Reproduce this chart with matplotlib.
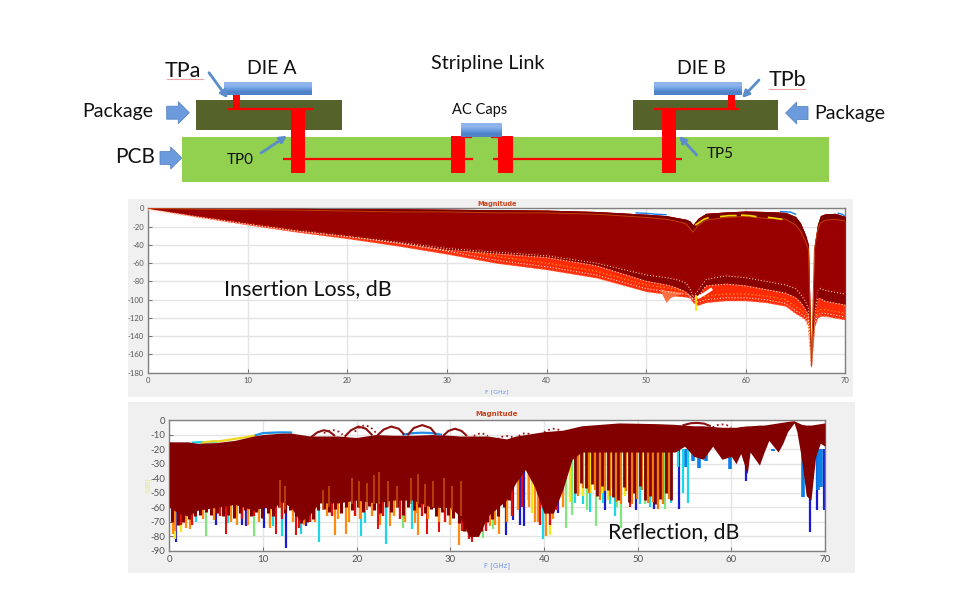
import matplotlib
matplotlib.use("Agg")
import matplotlib.pyplot as plt
from matplotlib.colors import LinearSegmentedColormap
from matplotlib.patches import Rectangle, Polygon, FancyArrowPatch

plt.rcParams["axes.unicode_minus"] = False
plt.rcParams["font.family"] = ["Lato", "DejaVu Sans"]
W, H = 961, 589

# ---------- Insertion loss envelopes ----------
il_f = [0, 5, 10, 15, 20, 25, 30, 35, 40, 45, 50, 52, 53, 54, 54.4, 54.7, 55.2, 56, 58, 60, 62, 64, 65, 65.5, 66, 66.3, 66.6, 66.9, 67.2, 67.5, 68, 69, 70]
il_top = [0, 0, 0, 0, -0.5, -0.5, -1, -1.5, -2, -3.5, -6.5, -8, -10, -12, -14, -18, -11, -5.5, -4, -3, -3.5, -4.5, -9, -16, -29, -40, -173, -40, -18, -8, -6, -5.5, -9]
il_line = [0, -1, -1.5, -2, -3, -4, -4, -5, -5, -6.5, -10, -12, -14, -17, -22, -26, -19, -13, -10, -9, -11, -12, -18, -25, -36, -45, -173, -45, -25, -16, -13, -12, -14]
il_main = [0, -8, -15.5, -23, -29, -35, -42, -46, -50, -58, -71, -74, -76, -80, -86, -95, -88, -76, -72, -74, -78, -82, -86, -92, -100, -108, -173, -108, -88, -86, -88, -90, -92]
il_band = [0, -8.5, -16.5, -24, -30, -37, -45, -49, -53, -62, -79, -83, -86, -91, -95, -98, -96, -84, -82, -84, -88, -92, -97, -102, -110, -116, -173, -116, -98, -98, -101, -103, -105]
il_bot = [0, -9.5, -18, -26, -33, -41, -50, -60, -67, -76, -91, -94, -96, -97, -98, -103, -106, -103, -101, -101, -103, -107, -115, -118, -122, -130, -173, -130, -120, -118, -118, -120, -122]
il_blue_a_f = [49, 50, 51, 52]
il_blue_a = [-5, -5.5, -6.5, -7]
il_blue_b_f = [63.5, 64.5, 65]
il_blue_b = [-3.5, -4.2, -6.5]
il_blue_c_f = [69.3, 69.7, 70]
il_blue_c = [-5.5, -6.5, -9]
il_yellow_f = [55, 55.4, 55.8, 56.2]
il_yellow = [-18, -15, -12, -10.5]
il_yellow2_f = [57.5, 58.3, 59]
il_yellow2 = [-9, -8, -8]
il_yellow3_f = [59.6, 60.4, 61]
il_yellow3 = [-7.5, -8, -9]
il_yellow4_f = [62.3, 63, 63.6]
il_yellow4 = [-10, -11, -12]
il_dip_f = [51.4, 52, 52.4, 53, 53.6]
il_dip = [-90, -103, -98, -95, -93]
il_dip_up = [-88, -90, -90, -91, -92]
il_spur_f = [55, 55]
il_spur = [-96, -111]
il_notch_f = [55.3, 55.8, 56.5]
il_notch = [-97, -94, -89]
il_x_ticks = [0, 10, 20, 30, 40, 50, 60, 70]
il_y_ticks = [0, -20, -40, -60, -80, -100, -120, -140, -160, -180]

# ---------- Reflection envelopes ----------
rl_f = [0, 1, 2, 3, 5, 7, 9, 10, 11, 12, 13, 14, 15, 16, 18, 20, 22, 24, 26, 28, 30, 31, 32, 33, 34, 36, 37, 38, 39, 40, 41, 42, 43, 44, 48, 52, 54, 55, 56, 57, 58, 59, 60, 60.5, 61, 61.7, 62, 63, 63.5, 64, 65, 65.5, 66, 66.7, 67, 67.5, 68, 68.5, 69, 69.5, 70]
rl_top = [-15, -15, -15, -16, -15.5, -14, -11, -10, -9.5, -9, -9, -10, -11, -11, -11, -12, -10, -10.5, -10.5, -10, -10.5, -11, -11, -11, -11, -13, -11, -10, -9, -8, -7.5, -7, -5.5, -4, -2, -2.5, -3, -3.5, -4, -4, -4.5, -5, -5, -5, -4.5, -4, -4, -3.5, -3.5, -3, -2, -1.5, -1, -0.5, -1.5, -3, -3.5, -3.5, -3, -2.5, -2]
rl_low = [-60, -64, -66, -62, -60, -58, -62, -60, -61, -56, -60, -70, -65, -57, -57, -55, -57, -55, -55, -60, -60, -66, -80, -80, -66, -55, -43, -34, -46, -64, -64, -48, -27, -22, -22, -22, -22, -18, -25, -27, -18, -27, -25, -30, -23, -37, -22, -31, -22, -14, -22, -16, -8, -2, -8, -27, -52, -55, -25, -16, -18]

trace_azure_f = [9.2, 10, 11, 12, 13]
trace_azure = [-10.5, -9, -8.7, -8.5, -8.6]
trace_azure2_f = [25, 26, 27, 28, 29]
trace_azure2 = [-10, -9, -8.7, -9, -10]
trace_cyan_f = [2.5, 3.2, 4, 5]
trace_cyan = [-15.5, -15.2, -15.5, -14.8]
trace_yellow_f = [3.6, 4.6, 5.2, 7, 8, 9]
trace_yellow = [-15.5, -14.6, -14.7, -13, -12, -10.8]

blue_f = [0.7, 5.0, 7.8, 8.2, 10.1, 12.5, 14.6, 35.9, 36.7, 37.4, 37.9, 41.5, 46.5, 49.8, 51.7, 54.4, 61.6, 68.4, 69.1, 69.9]
blue_d = [-84, -72, -72, -73, -74, -88, -73, -79, -69, -72, -73, -64, -62, -62, -61, -61, -42, -77, -62, -62]
azure_f = [55.2, 55.9, 56.6, 57.3, 59.9, 64.5, 67.7, 69.3, 69.6]
azure_d = [-32, -28, -33, -28, -34, -21, -53, -48, -46]
cyan_f = [2.9, 6.3, 11.1, 12, 14.1, 16, 20.5, 20.9, 23.1, 25.9, 39.9, 43.3, 44.2, 44.9, 46.3, 47, 47.6, 49.2, 50.3, 51.3, 52.2, 53.6, 54.3, 54.8, 55.4]
cyan_d = [-70, -71, -73, -80, -78, -83.5, -80, -71, -85, -75, -82, -57, -58, -63, -57, -58, -66, -58, -58, -60, -59, -57, -32, -50, -57]
green_f = [3.9, 9, 25, 33.5, 34.6, 42.3, 43, 44.6, 45.5, 47.8, 48.2, 50.8, 52.9]
green_d = [-80, -80, -74, -81, -75, -74, -65, -62, -73, -60, -74, -58, -61]
yellow_f = [0.6, 1.3, 12, 38.3, 38.7, 40.6, 42.8, 43.7, 44.2, 45, 45.6, 46.2, 46.8, 47.2, 48.6, 49.6, 50.4, 51, 52, 53.2]
yellow_d = [-82, -77, -66, -55, -64, -79, -56, -50, -52, -50, -46, -50, -55, -47, -52, -50, -44, -52, -50, -48]
orange_f = [0.4, 2.2, 7.2, 10.8, 17.7, 18.9, 22.5, 23.6, 26.2, 26.5, 30.9, 31.8, 34.2, 35.2, 39.4, 40.2]
orange_d = [-78, -75, -72, -74, -79, -78, -72, -73, -71, -79, -86, -77, -73, -78, -70, -80]
red_f = [6.1, 11.4, 13.5, 22.3, 27.5, 28.8, 32.3, 32.8, 49.2]
red_d = [-78, -78, -79, -75, -78, -77, -84, -80, -60]
orange_fringe_f = [0.6, 1.8, 3.6, 4.8, 6.6, 8.4, 9.6, 10.8, 13.2, 14.4, 15.6, 16.8, 18, 19.2, 20.4, 21.6, 24, 25.2, 26.4, 27.6, 28.8, 30, 33, 34.8, 36, 37.2, 38.4, 39, 41, 42]
orange_fringe_d = [-76, -74, -68, -69, -70, -72, -70, -72, -70, -72, -70, -66, -68, -70, -68, -66, -66, -70, -64, -68, -70, -72, -78, -72, -70, -62, -60, -70, -68, -60]
red_fringe_f = [1.2, 2.4, 5.4, 7.8, 9, 12, 13.8, 15, 17.4, 19.8, 22.8, 24.6, 27, 29.4, 31.2, 32, 33.8, 36.6, 37.6, 39.6, 40.6, 41.4]
red_fringe_d = [-72, -72, -66, -68, -66, -68, -74, -70, -66, -66, -66, -68, -66, -70, -76, -82, -76, -66, -60, -72, -72, -62]
dark_fringe_f = [0.3, 0.9, 1.5, 2.1, 2.7, 3.3, 3.9, 4.5, 5.1, 5.7, 6.3, 6.9, 7.5, 8.1, 8.7, 9.3, 9.9, 10.5, 11.1, 11.7, 12.3, 12.9, 13.5, 14.1, 14.7, 15.3, 15.9, 16.5, 17.1, 17.7, 18.3, 18.9, 19.5, 20.1, 20.7, 21.3, 21.9, 22.5, 23.1, 23.7, 24.3, 24.9, 25.5, 26.1, 26.7, 27.3, 27.9, 28.5, 29.1, 29.7, 30.3, 30.9, 31.5, 33.3, 33.9, 34.5, 35.1, 35.7, 36.3]
dark_fringe_d = [-70, -72, -70, -68, -66, -65, -63, -65, -64, -66, -65, -67, -64, -62, -66, -63, -67, -64, -66, -60, -64, -62, -66, -71, -70, -68, -62, -61, -63, -61, -64, -60, -62, -60, -63, -59, -62, -64, -60, -63, -60, -65, -60, -62, -60, -64, -61, -66, -63, -65, -67, -71, -76, -76, -70, -68, -66, -60, -55]
inner_f = [11.8, 12.4, 16.4, 17.1, 19.5, 20.3, 21.1, 21.9, 22.4, 23.3, 24.3, 25.8, 26.6, 27.3, 28.1, 29.3, 30.2, 31.1]
inner_t = [-41, -45, -48, -45, -40, -42, -43, -38, -36, -42, -45, -40, -37, -44, -42, -40, -45, -42]
inner_b = [-60, -62, -62, -60, -58, -60, -62, -58, -58, -60, -60, -58, -58, -60, -60, -62, -62, -66]
stripe_f = [43.3, 43.9, 44.5, 45.1, 45.7, 46.2, 46.8, 47.4, 47.9, 48.5, 49.1, 49.6, 50.2, 50.8, 51.3, 51.9, 52.4, 53.0, 53.6]
stripe_d = [-50, -43, -47, -44, -52, -45, -48, -53, -55, -46, -56, -50, -45, -55, -52, -58, -54, -50, -55]
orange_stripe_f = [43.6, 44.2, 44.8, 45.4, 46.0, 46.5, 47.1, 47.7, 48.2, 48.8, 49.4, 49.9, 50.5, 51.1, 51.6, 52.2, 52.7, 53.3]
orange_stripe_d = [-52, -47, -50, -48, -55, -49, -52, -56, -58, -49, -58, -54, -48, -57, -56, -61, -58, -54]

arc_solid = [
    ([15.2, 15.8, 16.5, 17.1, 17.6], [-11.5, -8.5, -7, -8, -10.5]),
    ([18.8, 19.4, 20.2, 21, 21.6], [-11, -7, -4.5, -6, -10]),
    ([22.3, 22.9, 23.7, 24.5, 25], [-10, -6.5, -4.5, -6, -9.5]),
    ([25.5, 26.1, 27, 27.9, 28.4], [-10, -5.5, -3.5, -5.5, -9.5]),
    ([29.3, 29.8, 30.5, 31.2, 31.7], [-10.5, -7.5, -6, -7.5, -10.5]),
    ([54.9, 55.7, 56.4, 57.1, 57.7], [-3.5, -2.2, -2, -2.5, -4]),
]
arc_dotted = [
    ([16.5, 17, 17.6, 18.1, 18.5], [-9, -7.5, -7, -8, -10]),
    ([19.8, 20.3, 20.9, 21.5, 22.1], [-8, -5, -3.5, -5, -9]),
    ([32.5, 33, 33.4, 34], [-11, -9.5, -9, -11]),
    ([35, 35.5, 36, 36.5, 36.9], [-13, -11.5, -11, -11.5, -13]),
    ([37.3, 37.7, 38, 38.4, 38.7], [-11, -9.5, -9, -9.5, -11]),
    ([40, 40.5, 41, 41.5, 41.9], [-8.5, -6.8, -6, -6.5, -8]),
    ([58, 58.5, 59, 59.5, 60], [-5, -3.5, -3, -3.5, -5]),
]
rl_x_ticks = [0, 10, 20, 30, 40, 50, 60, 70]
rl_y_ticks = [0, -10, -20, -30, -40, -50, -60, -70, -80, -90]

fig = plt.figure(figsize=(W / 100, H / 100), dpi=100, facecolor="white")
bg = fig.add_axes([0, 0, 1, 1])
bg.axis("off")

def panel(x0, y0, x1, y1, color="#f0f0f0", z=1):
    bg.add_patch(Rectangle((x0, y0), x1 - x0, y1 - y0, fc=color, ec="none", lw=0, zorder=z))

def axes_px(x0, y0, x1, y1):
    a = fig.add_axes([x0 / W, 1 - y1 / H, (x1 - x0) / W, (y1 - y0) / H])
    a.set_facecolor("white")
    for s in a.spines.values():
        s.set_color("#808080"); s.set_linewidth(1.0)
    a.grid(True, color="#e4e4e4", lw=1.0)
    a.set_axisbelow(True)
    a.tick_params(direction="in", length=3, width=0.7, color="#707070", labelcolor="#555555", pad=3)
    return a

panel(128, 199, 853, 397)
panel(128, 402, 855, 573)

# ---------- diagram ----------
GREEN, OLIVE, RED, BLUE = "#92d050", "#55632b", "#ff0000", "#6b9bdc"
panel(181.7, 137, 829, 181.7, GREEN, 2)
panel(196, 100, 341.7, 129.7, OLIVE, 3)
panel(632.7, 100, 778.3, 129.7, OLIVE, 3)
die_cmap = LinearSegmentedColormap.from_list("die", ["#8fb6ec", "#6d9fe0", "#4f82c8"])
for x0, x1, y0, y1 in [(224, 312, 82, 94.7), (654.3, 742.3, 82, 94.7), (461, 502, 123.7, 137)]:
    bg.imshow([[0], [1]], extent=(x0, x1, y1, y0), cmap=die_cmap, aspect="auto", interpolation="bilinear", zorder=6)
for x0, x1, y0, y1 in [(291, 305.3, 108, 173.3), (232.7, 240, 95, 108), (450.7, 465, 136, 173.3),
                       (497.7, 512.7, 136, 173.3), (661.7, 676.3, 108, 173.3), (727.7, 735, 95, 108)]:
    panel(x0, y0, x1, y1, RED, 5)
for x0, x1, y in [(228, 313, 108.5), (654, 739.3, 108.5), (283, 472.7, 158.7), (493.3, 682.3, 158.7), (491, 502, 136.5), (461, 472, 136.5)]:
    bg.plot([x0, x1], [y, y], color=RED, lw=1.6, zorder=5, solid_capstyle="butt")

def block(x_tail, x_tip, y):
    d = 1 if x_tip > x_tail else -1
    n = x_tip - d * 11
    bg.add_patch(Polygon([(x_tail, y - 6.5), (n, y - 6.5), (n, y - 11), (x_tip, y), (n, y + 11), (n, y + 6.5), (x_tail, y + 6.5)],
                         closed=True, fc=BLUE, ec="#5b86c4", lw=0.6, zorder=6))
block(166.7, 189.3, 112.7)
block(160, 181.7, 158)
block(808, 785.7, 113)

for a, b in [((209, 72.7), (227.7, 98.3)), ((261, 153), (287, 135.7)), ((759, 80), (742, 98)), ((696.7, 155), (679, 136))]:
    bg.add_patch(FancyArrowPatch(a, b, arrowstyle="-|>", mutation_scale=10, color="#5b8ccb", lw=2, zorder=7, shrinkA=0, shrinkB=0))

for x0, x1, y in [(167, 203, 79), (769, 805, 88.7)]:
    bg.plot([x0, x1], [y, y], color="#f0a0a0", lw=0.8, zorder=7)

def label(x, y, s, size=14.5):
    bg.text(x, y, s, fontsize=size, ha="center", va="center", color="#111111", zorder=8)
label(183, 71, "TPa", 15.5)
label(272, 69, "DIE A", 14)
label(488, 63, "Stripline Link", 14.3)
label(117.5, 112, "Package", 14)
label(135, 157, "PCB", 15)
label(240, 160, "TP0", 11)
label(480, 110, "AC Caps", 10.5)
label(701, 69, "DIE B", 14)
label(787, 80, "TPb", 15.5)
label(850, 113, "Package", 14)
label(720, 154, "TP5", 11)

bg.set_xlim(0, W); bg.set_ylim(H, 0)

# ---------- insertion loss ----------
a1 = axes_px(148.3, 208.3, 845.3, 372.7)
a1.set_xlim(0, 70); a1.set_ylim(-180, 0)
a1.set_xticks(il_x_ticks); a1.set_yticks(il_y_ticks)
a1.tick_params(labelsize=5.5)
a1.fill_between(il_f, il_top, il_bot, color="#ff2a08", lw=0, zorder=2)
a1.plot(il_f, il_bot, color="#ff6a48", lw=1.0, ls=":", zorder=3)
a1.plot(il_f, [v + 3 for v in il_bot], color="#ffe0d0", lw=0.8, ls=":", zorder=3)
a1.plot(il_f, [v + 7 for v in il_bot], color="#ff8a10", lw=1.0, ls=":", zorder=3)
a1.fill_between(il_dip_f, il_dip_up, il_dip, color="#ff7040", lw=0, zorder=2)
a1.fill_between(il_f, il_band, il_main, color="#8a0000", lw=0, zorder=3)
a1.plot(il_f, [v - 1 for v in il_band], color="#ffd8c0", lw=0.8, ls=":", zorder=4)
a1.plot(il_f, [v - 2 for v in il_main], color="#ffc0a0", lw=0.8, ls=":", zorder=4)
a1.fill_between(il_f, il_top, il_main, color="#990000", lw=0, zorder=4)
a1.fill_between(il_f, il_top, il_line, color="#7c0000", lw=0, zorder=5)
for f, d in [(il_blue_a_f, il_blue_a), (il_blue_b_f, il_blue_b), (il_blue_c_f, il_blue_c)]:
    a1.plot(f, d, color="#1080f0", lw=1.0, zorder=1.5)
a1.plot(il_f, il_line, color="#c84000", lw=0.7, zorder=6)
for f, d in [(il_yellow_f, il_yellow), (il_yellow2_f, il_yellow2), (il_yellow3_f, il_yellow3), (il_yellow4_f, il_yellow4)]:
    a1.plot(f, d, color="#f0d800", lw=1.2, zorder=7)
a1.plot(il_spur_f, il_spur, color="#f4e800", lw=1.3, zorder=7)
a1.plot(il_notch_f, il_notch, color="white", lw=2.2, zorder=7)
bg.text(497, 204, "Magnitude", fontsize=4.8, fontweight="bold", color="#c8431c", ha="center", va="center", family="DejaVu Sans", zorder=8)
bg.text(497, 391.5, "F [GHz]", fontsize=4.6, color="#6f94ea", ha="center", va="center", family="DejaVu Sans", zorder=8)

# ---------- reflection ----------
a2 = axes_px(169.3, 420, 825, 551)
a2.set_xlim(0, 70); a2.set_ylim(-90, 0)
a2.set_xticks(rl_x_ticks); a2.set_yticks(rl_y_ticks)
a2.tick_params(labelsize=7)
SOLID = "#820000"
START = -20
for f, d, c, lw in [(blue_f, blue_d, "#1a1ad2", 1.6), (azure_f, azure_d, "#0a7fe8", 2.6), (cyan_f, cyan_d, "#19d8e8", 1.6),
                    (green_f, green_d, "#7de87a", 1.5), (yellow_f, yellow_d, "#f0e81c", 1.7), (orange_f, orange_d, "#ff8a10", 1.6),
                    (red_f, red_d, "#e01010", 1.5), (orange_fringe_f, orange_fringe_d, "#ff8a10", 1.7), (red_fringe_f, red_fringe_d, "#e01010", 1.7)]:
    a2.vlines(f, START, d, color=c, lw=lw, zorder=2)
a2.vlines(orange_stripe_f, START, orange_stripe_d, color="#f07a08", lw=1.6, zorder=3)
a2.vlines(stripe_f, START, stripe_d, color=SOLID, lw=2.0, zorder=3.5)
a2.vlines(dark_fringe_f, START, dark_fringe_d, color=SOLID, lw=2.2, zorder=3.5)
a2.plot(trace_azure_f, trace_azure, color="#1f8fe8", lw=1.6, zorder=1.5)
a2.plot(trace_azure2_f, trace_azure2, color="#1f8fe8", lw=1.6, zorder=1.5)
a2.plot(trace_cyan_f, trace_cyan, color="#19d8e8", lw=1.6, zorder=1.6)
a2.plot(trace_yellow_f, trace_yellow, color="#f0d820", lw=1.6, zorder=1.7)
a2.fill_between(rl_f, rl_top, rl_low, color=SOLID, lw=0, zorder=4)
a2.vlines(inner_f, inner_t, inner_b, color="#c85008", lw=1.1, zorder=5)
for f, d in arc_solid:
    a2.plot(f, d, color="#8b1010", lw=1.5, zorder=3)
for f, d in arc_dotted:
    a2.plot(f, d, color="#a01818", lw=1.3, ls=":", zorder=3)
bg.text(497, 414, "Magnitude", fontsize=5, fontweight="bold", color="#c8431c", ha="center", va="center", family="DejaVu Sans", zorder=8)
bg.text(497, 566, "F [GHz]", fontsize=5, color="#6f94ea", ha="center", va="center", family="DejaVu Sans", zorder=8)
bg.text(148, 485, "[dB]", fontsize=5, rotation=90, color="#e8e88a", ha="center", va="center", family="DejaVu Sans", zorder=8)

# text over the plots
ov = fig.add_axes([0, 0, 1, 1], facecolor="none")
ov.set_xlim(0, W); ov.set_ylim(H, 0); ov.axis("off")
ov.text(307.7, 289, "Insertion Loss, dB", fontsize=15.5, ha="center", va="center", color="#111111")
ov.text(674, 532, "Reflection, dB", fontsize=15.3, ha="center", va="center", color="#111111")

fig.savefig("out.png", dpi=100)
